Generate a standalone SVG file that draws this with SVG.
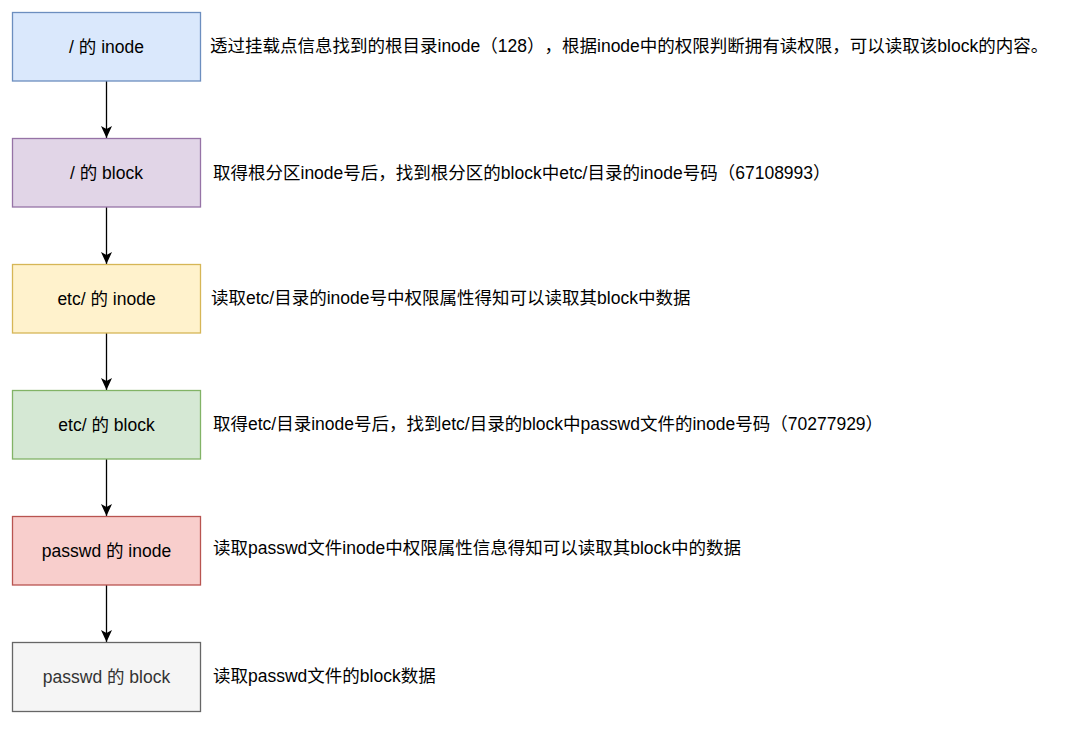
<svg xmlns="http://www.w3.org/2000/svg" width="1083" height="732" viewBox="0 0 1083 732">
<defs>
<style>
.box{stroke-width:1.3}
.lbl{font-family:"Liberation Sans","Noto Sans CJK SC",sans-serif;font-size:17.5px;fill:#000;text-anchor:middle}
.desc{font-family:"Liberation Sans","Noto Sans CJK SC",sans-serif;font-size:17.5px;fill:#000;text-spacing-trim:space-all}
.edge{stroke:#000;stroke-width:1.3;fill:none}
</style>
<marker id="arr" markerUnits="userSpaceOnUse" markerWidth="14" markerHeight="14" viewBox="0 0 14 14" refX="12" refY="7" orient="auto">
<path d="M12,7 L0,1.5 L3,7 L0,12.5 Z" fill="#000"/>
</marker>
</defs>
<rect width="1083" height="732" fill="#fff"/>
<g id="connectors">
<line class="edge" x1="106.5" y1="81" x2="106.5" y2="138" marker-end="url(#arr)"/>
<line class="edge" x1="106.5" y1="207" x2="106.5" y2="264" marker-end="url(#arr)"/>
<line class="edge" x1="106.5" y1="333" x2="106.5" y2="390" marker-end="url(#arr)"/>
<line class="edge" x1="106.5" y1="459" x2="106.5" y2="516" marker-end="url(#arr)"/>
<line class="edge" x1="106.5" y1="585" x2="106.5" y2="642" marker-end="url(#arr)"/>
</g>
<g id="n1">
<rect class="box" x="12.5" y="12.5" width="188" height="68.5" fill="#dae8fc" stroke="#6c8ebf"/>
<text class="lbl" x="106.5" y="52.5">/ 的 inode</text>
<text class="desc" x="210" y="52">透过挂载点信息找到的根目录inode（128），根据inode中的权限判断拥有读权限，可以读取该block的内容。</text>
</g>
<g id="n2">
<rect class="box" x="12.5" y="138.5" width="188" height="68.5" fill="#e1d5e7" stroke="#9673a6"/>
<text class="lbl" x="106.5" y="178.5">/ 的 block</text>
<text class="desc" x="213" y="179">取得根分区inode号后，找到根分区的block中etc/目录的inode号码（67108993）</text>
</g>
<g id="n3">
<rect class="box" x="12.5" y="264.5" width="188" height="68.5" fill="#fff2cc" stroke="#d6b656"/>
<text class="lbl" x="106.5" y="304.5">etc/ 的 inode</text>
<text class="desc" x="211" y="304">读取etc/目录的inode号中权限属性得知可以读取其block中数据</text>
</g>
<g id="n4">
<rect class="box" x="12.5" y="390.5" width="188" height="68.5" fill="#d5e8d4" stroke="#82b366"/>
<text class="lbl" x="106.5" y="430.5">etc/ 的 block</text>
<text class="desc" x="213" y="430">取得etc/目录inode号后，找到etc/目录的block中passwd文件的inode号码（70277929）</text>
</g>
<g id="n5">
<rect class="box" x="12.5" y="516.5" width="188" height="68.5" fill="#f8cecc" stroke="#b85450"/>
<text class="lbl" x="106.5" y="556.5">passwd 的 inode</text>
<text class="desc" x="213" y="554">读取passwd文件inode中权限属性信息得知可以读取其block中的数据</text>
</g>
<g id="n6">
<rect class="box" x="12.5" y="642.5" width="188" height="69" fill="#f5f5f5" stroke="#666666"/>
<text class="lbl" x="106.5" y="683" style="fill:#333333">passwd 的 block</text>
<text class="desc" x="213" y="682">读取passwd文件的block数据</text>
</g>
</svg>
